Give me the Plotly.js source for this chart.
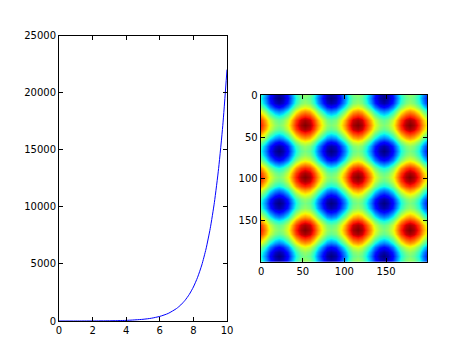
<!DOCTYPE html>
<html>
<head>
<meta charset="utf-8">
<script src="https://cdn.plot.ly/plotly-3.0.1.min.js"></script>
<style>html,body{margin:0;padding:0;background:#fff;}#chart{width:474px;height:357px;}</style>
</head>
<body>
<div id="chart"></div>
<script>
// Left panel: curve
const lineX = [0, 1, 2, 3, 4, 5, 5.5, 6, 6.5, 7, 7.25, 7.5, 7.75, 8, 8.25, 8.5, 8.75, 9, 9.25, 9.5, 9.75, 10];
const lineY = [1, 3, 7, 20, 55, 150, 245, 405, 665, 1100, 1410, 1810, 2320, 2980, 3830, 4910, 6310, 8100, 10400, 13360, 17150, 22030];
const lineXTicks = [0, 2, 4, 6, 8, 10];
const lineYTicks = [0, 5000, 10000, 15000, 20000, 25000];

// Right panel: image sampled on a grid (column / row positions in pixel-index units)
const imgX = [0,5.25,10.5,15.75,21,26.25,31.5,36.75,42,47.25,52.5,57.75,63,68.25,73.5,78.75,84,89.25,94.5,99.75,105,110.25,115.5,120.75,126,131.25,136.5,141.75,147,152.25,157.5,162.75,168,173.25,178.5,183.75,189,194.25,199.5];
const imgY = [-1.75,3.5,8.75,14,19.25,24.5,29.75,35,40.25,45.5,50.75,56,61.25,66.5,71.75,77,82.25,87.5,92.75,98,103.25,108.5,113.75,119,124.25,129.5,134.75,140,145.25,150.5,155.75,161,166.25,171.5,176.75,182,187.25,192.5,197.75];
const imgTicks = [0, 50, 100, 150];

// Distinct image rows (colour levels, -2 = deep blue, 2 = deep red)
const rowA = [1.5,1,.5,.13,0,.13,.5,1,1.5,1.87,2,1.87,1.5,1,.5,.13,0,.13,.5,1,1.5,1.87,2,1.87,1.5,1,.5,.13,0,.13,.5,1,1.5,1.87,2,1.87,1.5,1,.5];
const rowB = [1.37,.87,.37,0,-.13,0,.37,.87,1.37,1.74,1.87,1.74,1.37,.87,.37,0,-.13,0,.37,.87,1.37,1.74,1.87,1.74,1.37,.87,.37,0,-.13,0,.37,.87,1.37,1.74,1.87,1.74,1.37,.87,.37];
const rowC = [1,.5,0,-.37,-.5,-.37,0,.5,1,1.37,1.5,1.37,1,.5,0,-.37,-.5,-.37,0,.5,1,1.37,1.5,1.37,1,.5,0,-.37,-.5,-.37,0,.5,1,1.37,1.5,1.37,1,.5,0];
const rowD = [.5,0,-.5,-.87,-1,-.87,-.5,0,.5,.87,1,.87,.5,0,-.5,-.87,-1,-.87,-.5,0,.5,.87,1,.87,.5,0,-.5,-.87,-1,-.87,-.5,0,.5,.87,1,.87,.5,0,-.5];
const rowE = [0,-.5,-1,-1.37,-1.5,-1.37,-1,-.5,0,.37,.5,.37,0,-.5,-1,-1.37,-1.5,-1.37,-1,-.5,0,.37,.5,.37,0,-.5,-1,-1.37,-1.5,-1.37,-1,-.5,0,.37,.5,.37,0,-.5,-1];
const rowF = [-.37,-.87,-1.37,-1.74,-1.87,-1.74,-1.37,-.87,-.37,0,.13,0,-.37,-.87,-1.37,-1.74,-1.87,-1.74,-1.37,-.87,-.37,0,.13,0,-.37,-.87,-1.37,-1.74,-1.87,-1.74,-1.37,-.87,-.37,0,.13,0,-.37,-.87,-1.37];
const rowG = [-.5,-1,-1.5,-1.87,-2,-1.87,-1.5,-1,-.5,-.13,0,-.13,-.5,-1,-1.5,-1.87,-2,-1.87,-1.5,-1,-.5,-.13,0,-.13,-.5,-1,-1.5,-1.87,-2,-1.87,-1.5,-1,-.5,-.13,0,-.13,-.5,-1,-1.5];

const imgZ = [
  rowF, rowG, rowF, rowE, rowD, rowC, rowB, rowA, rowB, rowC, rowD, rowE,
  rowF, rowG, rowF, rowE, rowD, rowC, rowB, rowA, rowB, rowC, rowD, rowE,
  rowF, rowG, rowF, rowE, rowD, rowC, rowB, rowA, rowB, rowC, rowD, rowE,
  rowF, rowG, rowF
];

const jet = [
  [0, 'rgb(0,0,128)'], [0.11, 'rgb(0,0,255)'], [0.125, 'rgb(0,0,255)'],
  [0.34, 'rgb(0,219,255)'], [0.35, 'rgb(0,230,247)'], [0.375, 'rgb(21,255,226)'],
  [0.64, 'rgb(239,255,8)'], [0.65, 'rgb(247,245,0)'], [0.66, 'rgb(255,236,0)'],
  [0.89, 'rgb(255,19,0)'], [0.91, 'rgb(232,0,0)'], [1, 'rgb(128,0,0)']
];

const axisCommon = {
  showline: true, linecolor: '#000', linewidth: 1, mirror: 'ticks',
  ticks: 'inside', ticklen: 4, tickwidth: 1, tickcolor: '#000',
  showgrid: false, zeroline: false, tickfont: {family: 'DejaVu Sans', size: 10, color: '#000'}
};

const traces = [
  {type: 'scatter', mode: 'lines', x: lineX, y: lineY, xaxis: 'x', yaxis: 'y',
   line: {color: '#0000ff', width: 1, shape: 'spline', smoothing: 0.6}, hoverinfo: 'skip'},
  {type: 'heatmap', x: imgX, y: imgY, z: imgZ, xaxis: 'x2', yaxis: 'y2',
   colorscale: jet, zmin: -2, zmax: 2, zsmooth: 'best', showscale: false, hoverinfo: 'skip'}
];

const layout = {
  width: 474, height: 357,
  margin: {l: 0, r: 0, t: 0, b: 0},
  paper_bgcolor: '#fff', plot_bgcolor: '#fff',
  showlegend: false,
  font: {family: 'DejaVu Sans', size: 10, color: '#000'},
  xaxis: Object.assign({}, axisCommon, {domain: [0.1245, 0.4789], range: [0, 10], tickvals: lineXTicks, anchor: 'y'}),
  yaxis: Object.assign({}, axisCommon, {domain: [0.1008, 0.9], range: [0, 25000], tickvals: lineYTicks, tickformat: 'd', anchor: 'x'}),
  xaxis2: Object.assign({}, axisCommon, {domain: [0.55, 0.9015], range: [-0.5, 199.5], tickvals: imgTicks, anchor: 'y2'}),
  yaxis2: Object.assign({}, axisCommon, {domain: [0.267, 0.734], range: [199.5, -0.5], tickvals: imgTicks, anchor: 'x2'})
};

Plotly.newPlot('chart', traces, layout, {displayModeBar: false, staticPlot: true});
</script>
</body>
</html>
